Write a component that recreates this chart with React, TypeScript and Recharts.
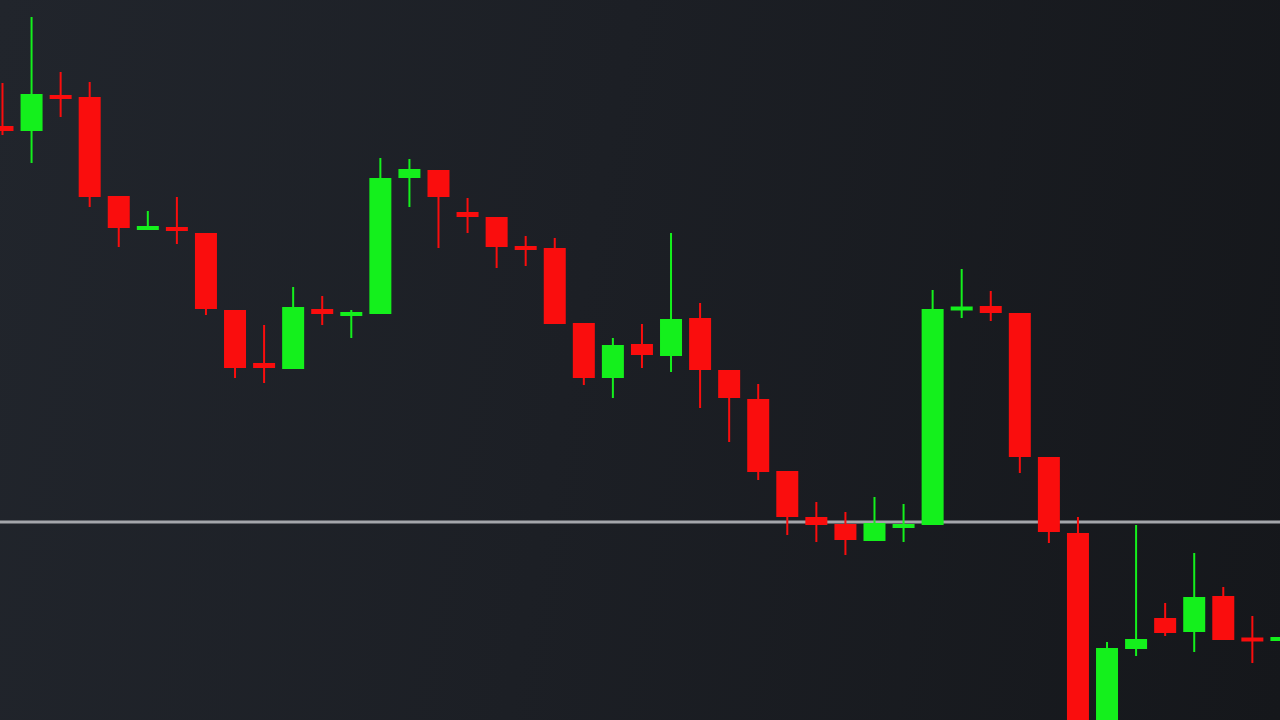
import { Bar, BarChart, ReferenceLine, XAxis, YAxis } from 'recharts'

// OHLC values, one entry per candle (left to right)
const opens = [
  159.4, 158.9, 162.5, 162.3, 152.4, 149.1, 149.3, 148.7, 141.0, 135.7,
  135.1, 141.1, 140.5, 140.6, 154.2, 155.0, 150.8, 150.3, 147.4, 147.2,
  139.7, 134.2, 137.6, 136.4, 140.2, 135.0, 132.1, 124.9, 120.3, 119.6,
  117.9, 119.3, 119.5, 141.0, 141.4, 140.7, 126.3, 118.7, 98.0, 107.1,
  110.2, 108.8, 112.4, 108.2, 108.0,
]
const highs = [
  163.7, 170.3, 164.8, 163.8, 152.4, 150.9, 152.3, 148.7, 141.0, 139.5,
  143.3, 142.4, 141.0, 156.2, 156.1, 155.0, 152.2, 150.3, 148.4, 148.2,
  139.7, 138.2, 139.6, 148.7, 141.7, 135.0, 133.6, 124.9, 121.8, 120.8,
  122.3, 121.6, 143.0, 145.1, 142.9, 140.7, 126.3, 120.3, 107.8, 119.5,
  111.7, 116.7, 113.3, 110.4, 108.4,
]
const lows = [
  158.5, 155.7, 160.3, 151.3, 147.3, 149.0, 147.6, 140.5, 134.2, 133.7,
  135.1, 139.5, 138.2, 140.6, 151.3, 147.2, 148.7, 145.2, 145.4, 139.6,
  133.5, 132.2, 135.2, 134.8, 131.2, 127.8, 124.0, 118.5, 117.8, 116.5,
  117.9, 117.8, 119.5, 140.2, 139.9, 124.7, 117.7, 98.0, 97.9, 106.4,
  108.4, 106.8, 108.0, 105.7, 107.8,
]
const closes = [
  158.9, 162.6, 162.1, 152.3, 149.2, 149.3, 148.9, 141.1, 135.2, 135.2,
  141.3, 140.6, 140.7, 154.2, 155.1, 152.3, 150.3, 147.3, 147.0, 139.6,
  134.2, 137.5, 136.5, 140.1, 135.0, 132.2, 124.8, 120.3, 119.5, 118.0,
  119.7, 119.5, 141.1, 141.3, 140.7, 126.3, 118.8, 98.0, 107.2, 108.1,
  108.7, 112.3, 108.0, 107.9, 108.2,
]
const supportLevel = 119.8
const priceDomain = [100, 172]

const UP = '#14f01c'
const DOWN = '#fa0d0d'

const data = opens.map((open, i) => ({
  idx: i,
  open,
  high: highs[i],
  low: lows[i],
  close: closes[i],
}))

function Candle(props: any) {
  const { x, y, width, height, payload } = props
  if (!payload) return null
  const { open, close, high, low } = payload
  const top = Math.min(y, y + height)
  const h = Math.abs(height)
  const perUnit = high - low > 0 ? h / (high - low) : 0
  const color = close >= open ? UP : DOWN
  const cx = x + width / 2
  const bodyTop = top + (high - Math.max(open, close)) * perUnit
  let bodyH = Math.abs(open - close) * perUnit
  let by = bodyTop
  if (bodyH < 4) {
    by = bodyTop + bodyH / 2 - 2
    bodyH = 4
  }
  return (
    <g>
      <rect x={cx - 1} y={top} width={2} height={h} fill={color} />
      <rect x={x} y={by} width={width} height={bodyH} fill={color} />
    </g>
  )
}

const W = 1308
const H = 720
const layer: React.CSSProperties = { position: 'absolute', left: -12, top: 0 }

export default function App() {
  return (
    <div
      style={{
        position: 'fixed',
        left: 0,
        top: 0,
        width: 1280,
        height: 720,
        overflow: 'hidden',
        background: 'linear-gradient(100deg, #21252c 0%, #1c1f25 45%, #15171b 100%)',
      }}
    >
      {/* level line sits underneath the candles */}
      <div style={layer}>
        <BarChart width={W} height={H} data={data} margin={{ top: 0, right: 0, bottom: 0, left: 0 }}>
          <XAxis dataKey="idx" hide />
          <YAxis hide domain={priceDomain} allowDataOverflow />
          <ReferenceLine y={supportLevel} stroke="#a4a6ab" strokeWidth={3} />
        </BarChart>
      </div>
      <div style={layer}>
        <BarChart
          width={W}
          height={H}
          data={data}
          margin={{ top: 0, right: 0, bottom: 0, left: 0 }}
          barCategoryGap="12%"
        >
          <XAxis dataKey="idx" hide />
          <YAxis hide domain={priceDomain} allowDataOverflow />
          <Bar
            dataKey={(d: any) => [d.low, d.high]}
            shape={<Candle />}
            isAnimationActive={false}
          />
        </BarChart>
      </div>
    </div>
  )
}
